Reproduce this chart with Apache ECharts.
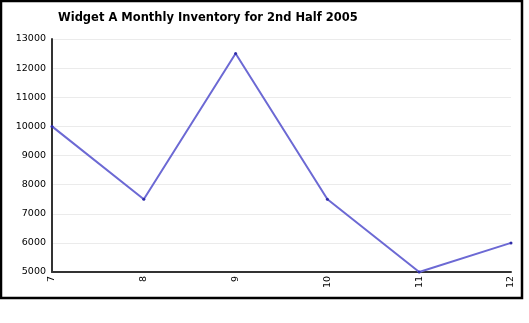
<!DOCTYPE html>
<html>
<head>
<meta charset="utf-8">
<script src="https://cdn.jsdelivr.net/npm/echarts@6/dist/echarts.min.js"></script>
<style>
  html, body { margin: 0; padding: 0; background: #fff; }
  #chart { width: 529px; height: 323px; }
</style>
</head>
<body>
<div id="chart"></div>
<script>
// Monthly inventory counts for Widget A, July to December 2005
const months = ['7', '8', '9', '10', '11', '12'];
const inventory = [10000, 7500, 12500, 7500, 5000, 6000];
const yTicks = { min: 5000, max: 13000, step: 1000 };

const chart = echarts.init(document.getElementById('chart'), null, { renderer: 'canvas' });

chart.setOption({
  animation: false,
  backgroundColor: '#ffffff',
  title: {
    text: 'Widget A Monthly Inventory for 2nd Half 2005',
    left: 53,
    top: 7,
    textStyle: {
      fontFamily: 'DejaVu Sans',
      fontSize: 11.5,
      fontWeight: 'bold',
      color: '#000'
    }
  },
  graphic: [{
    type: 'rect',
    shape: { x: 1, y: 1, width: 521, height: 297 },
    style: { fill: 'none', stroke: '#000', lineWidth: 2.5 },
    silent: true,
    z: 100
  }],
  grid: { left: 52, right: 18, top: 39, bottom: 51 },
  xAxis: {
    type: 'category',
    data: months,
    boundaryGap: false,
    axisLine: { lineStyle: { color: '#333', width: 2 } },
    axisTick: { show: false },
    axisLabel: {
      rotate: 90,
      margin: 4,
      fontFamily: 'DejaVu Sans',
      fontSize: 9.5,
      color: '#000'
    },
    splitLine: { show: false }
  },
  yAxis: {
    type: 'value',
    min: yTicks.min,
    max: yTicks.max,
    interval: yTicks.step,
    axisLine: { show: true, lineStyle: { color: '#333', width: 2 } },
    axisTick: { show: false },
    axisLabel: {
      margin: 6,
      fontFamily: 'DejaVu Sans',
      fontSize: 9.5,
      color: '#000',
      formatter: v => String(v)
    },
    splitLine: { lineStyle: { color: '#ebebeb', width: 1 } }
  },
  series: [{
    type: 'line',
    data: inventory,
    symbol: 'circle',
    symbolSize: 3,
    showSymbol: true,
    itemStyle: { color: '#2f2ca8' },
    lineStyle: { color: '#6c69d4', width: 2 }
  }]
});
</script>
</body>
</html>
